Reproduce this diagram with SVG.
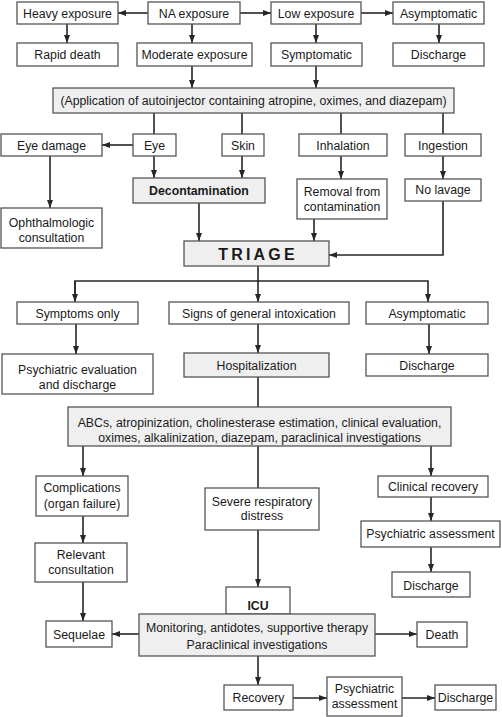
<svg xmlns="http://www.w3.org/2000/svg" width="502" height="717" viewBox="0 0 502 717">
<style>
.b{fill:#fff;stroke:#555;stroke-width:1.3}
.g{fill:#efefef;stroke:#555;stroke-width:1.3}
text{font-family:"Liberation Sans",Arial,sans-serif;font-size:12.3px;fill:#1a1a1a;text-anchor:middle}
.bd{font-weight:bold}
.tr{font-weight:bold;font-size:16px;letter-spacing:3.2px}
.c path{fill:none;stroke:#262626;stroke-width:1.6}
</style>
<defs>
<marker id="a" viewBox="0 0 8 6" refX="8" refY="3" markerWidth="8" markerHeight="6" markerUnits="userSpaceOnUse" orient="auto">
<path d="M0,0 L8,3 L0,6 z" fill="#262626"/>
</marker>
</defs>
<g class="c">
<path d="M148,13 H118" marker-end="url(#a)"/>
<path d="M240,13 H271" marker-end="url(#a)"/>
<path d="M361,13 H393" marker-end="url(#a)"/>
<path d="M67,24 V43" marker-end="url(#a)"/>
<path d="M192,24 V43" marker-end="url(#a)"/>
<path d="M316,24 V43" marker-end="url(#a)"/>
<path d="M439,24 V43" marker-end="url(#a)"/>
<path d="M192,66 V88" marker-end="url(#a)"/>
<path d="M316,66 V88" marker-end="url(#a)"/>
<path d="M154,113 V134"/>
<path d="M242,113 V134"/>
<path d="M341,113 V134"/>
<path d="M443,113 V134"/>
<path d="M133,145 H102" marker-end="url(#a)"/>
<path d="M154,156 V178" marker-end="url(#a)"/>
<path d="M242,156 V178" marker-end="url(#a)"/>
<path d="M341,156 V179" marker-end="url(#a)"/>
<path d="M443,156 V179" marker-end="url(#a)"/>
<path d="M50,156 V208" marker-end="url(#a)"/>
<path d="M199,203 V241" marker-end="url(#a)"/>
<path d="M314,219 V241" marker-end="url(#a)"/>
<path d="M443,201 V255 H329" marker-end="url(#a)"/>
<path d="M258,266 V302" marker-end="url(#a)"/>
<path d="M75,302 V281 H428 V302" marker-end="url(#a)"/>
<path d="M75,281 V302" marker-end="url(#a)"/>
<path d="M76,324 V354" marker-end="url(#a)"/>
<path d="M258,324 V353" marker-end="url(#a)"/>
<path d="M429,324 V354" marker-end="url(#a)"/>
<path d="M258,377 V407"/>
<path d="M83,446 V476" marker-end="url(#a)"/>
<path d="M258,446 V488"/>
<path d="M431,446 V476" marker-end="url(#a)"/>
<path d="M83,516 V543" marker-end="url(#a)"/>
<path d="M83,582 V621" marker-end="url(#a)"/>
<path d="M431,497 V521" marker-end="url(#a)"/>
<path d="M431,547 V572" marker-end="url(#a)"/>
<path d="M258,530 V587" marker-end="url(#a)"/>
<path d="M139,634 H112" marker-end="url(#a)"/>
<path d="M375,634 H417" marker-end="url(#a)"/>
<path d="M258,656 V685" marker-end="url(#a)"/>
<path d="M293,698 H327" marker-end="url(#a)"/>
<path d="M402,698 H435" marker-end="url(#a)"/>
</g>
<g id="heavy"><rect class="b" x="17" y="2" width="101" height="22"/><text x="67.5" y="17.5">Heavy exposure</text></g>
<g id="na"><rect class="b" x="148" y="2" width="92" height="22"/><text x="194" y="17.5">NA exposure</text></g>
<g id="low"><rect class="b" x="271" y="2" width="90" height="22"/><text x="316" y="17.5">Low exposure</text></g>
<g id="asym1"><rect class="b" x="393" y="2" width="91" height="22"/><text x="438.5" y="17.5">Asymptomatic</text></g>
<g id="rapid"><rect class="b" x="17" y="43" width="101" height="23"/><text x="67.5" y="59">Rapid death</text></g>
<g id="moderate"><rect class="b" x="137" y="43" width="115" height="23"/><text x="194.5" y="59">Moderate exposure</text></g>
<g id="symptomatic"><rect class="b" x="271" y="43" width="91" height="23"/><text x="316.5" y="59">Symptomatic</text></g>
<g id="discharge1"><rect class="b" x="393" y="43" width="91" height="23"/><text x="438.5" y="59">Discharge</text></g>
<g id="auto"><rect class="g" x="53" y="88" width="401" height="25"/><text x="253.5" y="105">(Application of autoinjector containing atropine, oximes, and diazepam)</text></g>
<g id="eyedamage"><rect class="b" x="1" y="134" width="101" height="22"/><text x="51.5" y="149.5">Eye damage</text></g>
<g id="eye"><rect class="b" x="133" y="134" width="43" height="22"/><text x="154.5" y="149.5">Eye</text></g>
<g id="skin"><rect class="b" x="222" y="134" width="42" height="22"/><text x="243" y="149.5">Skin</text></g>
<g id="inhalation"><rect class="b" x="299" y="134" width="88" height="22"/><text x="343" y="149.5">Inhalation</text></g>
<g id="ingestion"><rect class="b" x="405" y="134" width="76" height="22"/><text x="443" y="149.5">Ingestion</text></g>
<g id="decon"><rect class="g" x="133" y="178" width="132" height="25"/><text class="bd" x="199" y="195">Decontamination</text></g>
<g id="removal"><rect class="b" x="297" y="179" width="90" height="40"/><text x="342" y="195.5">Removal from</text><text x="342" y="210.5">contamination</text></g>
<g id="nolavage"><rect class="b" x="405" y="179" width="76" height="22"/><text x="443" y="194">No lavage</text></g>
<g id="ophth"><rect class="b" x="1" y="208" width="101" height="40"/><text x="51.5" y="226.5">Ophthalmologic</text><text x="51.5" y="241.5">consultation</text></g>
<g id="triage"><rect class="g" x="184" y="241" width="145" height="25"/><text class="tr" x="258" y="259.5">TRIAGE</text></g>
<g id="symptomsonly"><rect class="b" x="17" y="302" width="121" height="22"/><text x="77.5" y="317.5">Symptoms only</text></g>
<g id="signs"><rect class="b" x="169" y="302" width="180" height="22"/><text x="259" y="317.5">Signs of general intoxication</text></g>
<g id="asym2"><rect class="b" x="366" y="302" width="122" height="22"/><text x="427" y="317.5">Asymptomatic</text></g>
<g id="psycheval"><rect class="b" x="2" y="354" width="151" height="40"/><text x="77.5" y="373.5">Psychiatric evaluation</text><text x="77.5" y="388.5">and discharge</text></g>
<g id="hosp"><rect class="g" x="184" y="353" width="145" height="24"/><text x="256.5" y="369.5">Hospitalization</text></g>
<g id="discharge2"><rect class="b" x="366" y="354" width="122" height="22"/><text x="427" y="369.5">Discharge</text></g>
<g id="abcs"><rect class="g" x="68" y="407" width="383" height="39"/><text x="259.5" y="426.5">ABCs, atropinization, cholinesterase estimation, clinical evaluation,</text><text x="259.5" y="441.5">oximes, alkalinization, diazepam, paraclinical investigations</text></g>
<g id="complications"><rect class="b" x="36" y="476" width="92" height="40"/><text x="82" y="492">Complications</text><text x="82" y="507.5">(organ failure)</text></g>
<g id="severe"><rect class="b" x="205" y="488" width="114" height="42"/><text x="262" y="505.5">Severe respiratory</text><text x="262" y="519.5">distress</text></g>
<g id="clinrec"><rect class="b" x="378" y="476" width="110" height="21"/><text x="433" y="490.5">Clinical recovery</text></g>
<g id="relevant"><rect class="b" x="35" y="543" width="92" height="39"/><text x="81" y="558.5">Relevant</text><text x="81" y="573.5">consultation</text></g>
<g id="psychass1"><rect class="b" x="361" y="521" width="139" height="26"/><text x="430.5" y="538">Psychiatric assessment</text></g>
<g id="discharge3"><rect class="b" x="392" y="572" width="78" height="25"/><text x="431" y="589.5">Discharge</text></g>
<g id="icu"><rect class="b" x="226" y="587" width="64" height="27"/><text class="bd" x="258" y="609.5">ICU</text></g>
<g id="monitoring"><rect class="g" x="139" y="614" width="236" height="42"/><text x="257" y="632">Monitoring, antidotes, supportive therapy</text><text x="257" y="649">Paraclinical investigations</text></g>
<g id="sequelae"><rect class="b" x="46" y="621" width="66" height="26"/><text x="79" y="638.5">Sequelae</text></g>
<g id="death"><rect class="b" x="417" y="622" width="50" height="25"/><text x="442" y="639">Death</text></g>
<g id="recovery"><rect class="b" x="224" y="685" width="69" height="25"/><text x="258.5" y="702">Recovery</text></g>
<g id="psychass2"><rect class="b" x="327" y="677" width="75" height="39"/><text x="364.5" y="692.5">Psychiatric</text><text x="364.5" y="707.5">assessment</text></g>
<g id="discharge4"><rect class="b" x="435" y="685" width="61" height="25"/><text x="465.5" y="702">Discharge</text></g>
</svg>
